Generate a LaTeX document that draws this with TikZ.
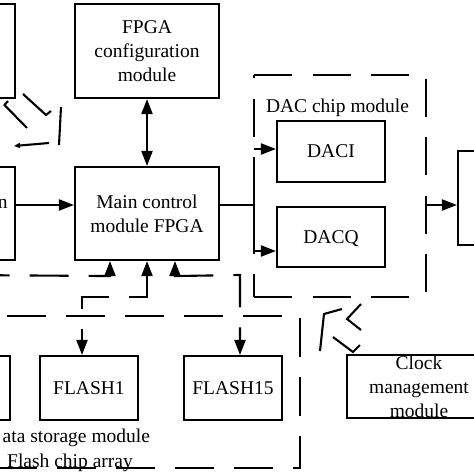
\documentclass[tikz,border=0pt]{standalone}
\usepackage{fontspec}
\setmainfont{Liberation Serif}
\usetikzlibrary{arrows.meta}
\newcommand\myfs{\fontsize{19.5}{24}\selectfont}
\begin{document}
\begin{tikzpicture}[x=1pt,y=-1pt,
  box/.style={draw, line width=2.1pt, inner sep=0pt, align=center, font=\myfs},
  lab/.style={inner sep=0pt, font=\myfs},
  ln/.style={line width=2.1pt},
  dl/.style={line width=2.1pt, dash pattern=on 39pt off 20pt},
  dacdash/.style={line width=2.1pt, dash pattern=on 38pt off 20.5pt},
  >={Triangle[length=15pt,width=11pt]}]
\fill[white] (0,0) rectangle (474,474);
\path[use as bounding box, clip] (0,0) rectangle (474,474);

% boxes
\node[box, minimum width=115pt, minimum height=94pt] (tlbox) at (-42.5,51) {};
\node[box, minimum width=144pt, minimum height=94pt] (cfg) at (147,51) {FPGA\\configuration\\module};
\node[box, minimum width=115pt, minimum height=93pt] (lbox) at (-42.5,213.5) {};
\node[lab, anchor=base east] (ltext) at (7.8,208) {n};
\node[box, minimum width=144pt, minimum height=93pt] (main) at (147,213.5) {Main control\\module FPGA};
\node[box, minimum width=108pt, minimum height=61pt] (dacI) at (331,151.5) {DACI};
\node[box, minimum width=108pt, minimum height=60pt, text depth=0pt] (dacQ) at (331,237) {DACQ};
\node[lab, anchor=base] (daclab) at (337.5,112) {DAC chip module};
\node[box, minimum width=102pt, minimum height=94pt] (rbox) at (509,198) {};
\node[box, minimum width=100pt, minimum height=64pt] (flash0) at (-40,388) {};
\node[box, minimum width=98pt, minimum height=64pt] (flash1) at (89,388) {FLASH1};
\node[box, minimum width=98pt, minimum height=64pt] (flash15) at (233,388) {FLASH15};
\node[box, minimum width=144pt, minimum height=63pt] (clk) at (419,386.5) {Clock\\management\\module};
\node[lab, anchor=base west] (dslab1) at (2.5,442) {ata storage module};
\node[lab, anchor=base] (dslab2) at (70,467) {Flash chip array};

% dashed module frames
\draw[dacdash] (254,75) -- (426,75) -- (426,297);
\draw[dacdash] (254,297) -- (426,297);
\draw[dacdash, dash phase=15pt] (254,297) -- (254,75);
\draw[dl] (-52,316) -- (300,316) -- (300,468) -- (-60,468);

% connectors
\coordinate (yA) at (0,205);
\draw[ln,->] (lbox.east |- yA) -- (main.west |- yA);
\draw[ln,<->] (cfg.south) -- (main.north);
\coordinate (sp) at (254,205);
\coordinate (sp1) at (254,149);
\coordinate (sp2) at (254,251);
\coordinate (sp0) at (254,157);
\draw[ln] (main.east |- yA) -- (sp);
\draw[ln] (sp0) -- (sp2);
\draw[ln,->] (sp1) -- (sp1 -| dacI.west);
\draw[ln,->] (sp2) -- (sp2 -| dacQ.west);
\coordinate (dr) at (426,205);
\draw[ln,->] (dr) -- (dr -| rbox.west);

\coordinate (yB) at (0,275);
\coordinate (yC) at (0,297);
\draw[dl,<->, dash phase=17pt] ([xshift=-37pt]main.south) -- ++(0,15) -- (flash0.north |- yB) -- (flash0.north);
\draw[dl,<->] (main.south) -- (main.south |- yC) -- ([xshift=-7pt]flash1.north |- yC) -- ([xshift=-7pt]flash1.north);
\draw[dl,<->] ([xshift=28pt]main.south) -- ++(0,15) -- ([xshift=7pt]flash15.north |- yB) -- ([xshift=7pt]flash15.north);

% clock signal marks
\draw[ln] (8,101) -- (4.5,105) -- (27,128);
\draw[ln] (23,94) -- (46,115) -- (51,111);
\draw[ln] (61,107) -- (59,145);
\draw[ln, -{Triangle[length=6pt,width=5pt]}] (49,143) -- (14,146);
\draw[ln] (342,309) -- (324,314) -- (320,351);
\draw[ln] (361,304) -- (347,319) -- (361,330);
\draw[ln] (333,337) -- (353,352) -- (360,345);
\end{tikzpicture}
\end{document}
